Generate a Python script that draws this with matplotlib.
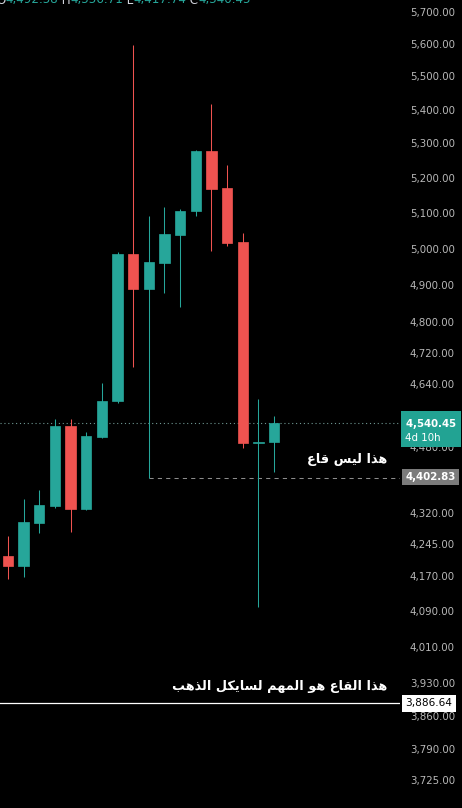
import matplotlib
matplotlib.use("Agg")
import matplotlib.pyplot as plt
import matplotlib.transforms as mtransforms

# weekly candles (oldest -> newest)
opens  = [4217, 4193, 4295, 4335, 4532, 4328, 4505, 4595, 4985, 4889,
          4961, 5038, 5105, 5278, 5170, 5017, 4490, 4492.58]
closes = [4193, 4297, 4338, 4532, 4328, 4507, 4595, 4985, 4889, 4963,
          5041, 5105, 5278, 5168, 5015, 4490, 4492, 4540.45]
highs  = [4264, 4352, 4374, 4550, 4550, 4517, 4641, 4990, 5597, 5091,
          5116, 5110, 5282, 5417, 5237, 5043, 4600, 4556.71]
lows   = [4163, 4168, 4271, 4330, 4273, 4325, 4503, 4590, 4683, 4402.83,
          4879, 4841, 5091, 4993, 5008, 4477, 4099, 4417.74]

tick_values = [5700, 5600, 5500, 5400, 5300, 5200, 5100, 5000, 4900, 4800,
               4720, 4640, 4560, 4480, 4320, 4245, 4170, 4090, 4010,
               3930, 3860, 3790, 3725]

last_price = 4540.45
not_bottom = 4402.83     # low of week 10
cycle_bottom = 3886.64
countdown = "4d 10h"

ohlc_last = [("O", "4,492.58"), ("H", "4,556.71"), ("L", "4,417.74"), ("C", "4,540.45")]

note1 = "هذا ليس قاع"
note2 = "هذا القاع هو المهم لسايكل الذهب"

GREEN = "#26a69a"
RED = "#ef5350"

# simple arabic shaping (presentation forms) + RTL order
FORMS = {
    "ا": ("\uFE8D", "\uFE8E", None, None),
    "ب": ("\uFE8F", "\uFE90", "\uFE91", "\uFE92"),
    "ذ": ("\uFEAB", "\uFEAC", None, None),
    "س": ("\uFEB1", "\uFEB2", "\uFEB3", "\uFEB4"),
    "ع": ("\uFEC9", "\uFECA", "\uFECB", "\uFECC"),
    "ق": ("\uFED5", "\uFED6", "\uFED7", "\uFED8"),
    "ك": ("\uFED9", "\uFEDA", "\uFEDB", "\uFEDC"),
    "ل": ("\uFEDD", "\uFEDE", "\uFEDF", "\uFEE0"),
    "م": ("\uFEE1", "\uFEE2", "\uFEE3", "\uFEE4"),
    "ه": ("\uFEE9", "\uFEEA", "\uFEEB", "\uFEEC"),
    "و": ("\uFEED", "\uFEEE", None, None),
    "ي": ("\uFEF1", "\uFEF2", "\uFEF3", "\uFEF4"),
}


def shape(text):
    out = []
    for i, ch in enumerate(text):
        if ch not in FORMS:
            out.append(ch)
            continue
        prev = text[i - 1] if i > 0 else ""
        nxt = text[i + 1] if i + 1 < len(text) else ""
        jp = prev in FORMS and FORMS[prev][2] is not None
        jn = nxt in FORMS and FORMS[ch][2] is not None
        iso, fin, ini, med = FORMS[ch]
        if jp and jn:
            out.append(med)
        elif jp:
            out.append(fin)
        elif jn:
            out.append(ini)
        else:
            out.append(iso)
    return "".join(reversed(out))


fig = plt.figure(figsize=(4.62, 8.08), dpi=100, facecolor="black")
ax = fig.add_axes([0, 0, 400 / 462, 1])
ax.set_facecolor("black")
for s in ax.spines.values():
    s.set_visible(False)

ax.set_yscale("log")
ax.set_ylim(3668, 5738)
ax.set_xlim(-0.51, 25.05)

x = list(range(len(opens)))
cols = [GREEN if c >= o else RED for o, c in zip(opens, closes)]
ax.vlines(x, lows, highs, colors=cols, linewidth=0.75, zorder=2)
bottoms = [min(o, c) for o, c in zip(opens, closes)]
heights = [abs(c - o) for o, c in zip(opens, closes)]
ax.bar(x, heights, bottom=bottoms, width=0.66, color=cols, edgecolor=cols,
       linewidth=0.5, zorder=3)

# horizontal lines
ax.axhline(last_price, color="#6f9893", linestyle=(0, (1, 2.5)), linewidth=0.8, zorder=1)
ax.plot([9, 25.05], [not_bottom, not_bottom], color="#8c8c8c",
        linestyle=(0, (4, 4)), linewidth=0.75, zorder=1)
ax.axhline(cycle_bottom, color="white", linewidth=0.9, zorder=1)

# right price scale
ax.yaxis.tick_right()
ax.minorticks_off()
ax.set_yticks(tick_values, [f"{v:,.2f}" for v in tick_values])
ax.tick_params(axis="y", length=0, pad=7.2, labelcolor="#b8b8b8", labelsize=7.4)
ax.set_xticks([])

blend = mtransforms.blended_transform_factory(ax.transAxes, ax.transData)
ax.annotate(r"$\mathbf{4{,}540.45}$" + "\n" + countdown, xy=(1, last_price),
            xycoords=blend, xytext=(3.8, -5.3), textcoords="offset points",
            ha="left", va="center", color="white", fontsize=7.4, linespacing=1.25,
            annotation_clip=False, zorder=6,
            bbox=dict(boxstyle="square,pad=0.4", fc="#22a393", ec="none"))
ax.annotate(f"{not_bottom:,.2f}", xy=(1, not_bottom), xycoords=blend,
            xytext=(3.8, 1), textcoords="offset points", ha="left", va="center",
            color="white", fontsize=7.4, fontweight="bold", annotation_clip=False,
            zorder=6, bbox=dict(boxstyle="square,pad=0.3", fc="#7b7b7b", ec="none"))
ax.annotate(f"{cycle_bottom:,.2f}", xy=(1, cycle_bottom), xycoords=blend,
            xytext=(3.8, 0), textcoords="offset points", ha="left", va="center",
            color="black", fontsize=7.6, annotation_clip=False,
            zorder=6, bbox=dict(boxstyle="square,pad=0.35", fc="white", ec="none"))

# notes
ax.text(0.9675, 4449, shape(note1), transform=blend, ha="right", va="center",
        color="white", fontsize=9.3, fontweight="bold", family=["DejaVu Sans"])
ax.text(0.9675, 3924, shape(note2), transform=blend, ha="right", va="center",
        color="white", fontsize=9.3, fontweight="bold", family=["DejaVu Sans"])

# OHLC legend at the top (cut off by the frame)
prev = fig.text(-4 / 462, 1 - 6.5 / 808, ohlc_last[0][0], color="#d1d4dc",
                fontsize=8.6, ha="left", va="bottom")
for i, (lab, val) in enumerate(ohlc_last):
    if i > 0:
        prev = fig.add_artist(plt.Annotation(" " + lab, xy=(1, 0), xycoords=prev,
                                             ha="left", va="bottom", color="#d1d4dc",
                                             fontsize=8.6))
    prev = fig.add_artist(plt.Annotation(val, xy=(1, 0), xycoords=prev, ha="left",
                                         va="bottom", color=GREEN, fontsize=8.6))

fig.savefig("out.png", dpi=100, facecolor="black")
